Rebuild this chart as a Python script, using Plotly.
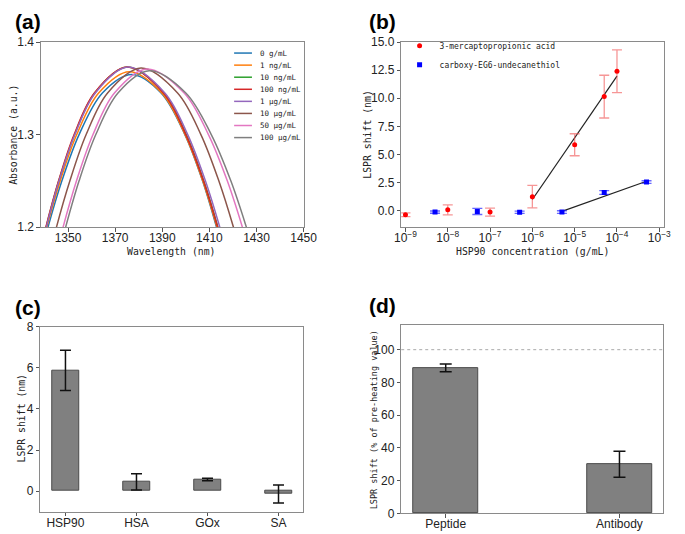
import plotly.graph_objects as go

# ---------------- data ----------------
# (a) absorbance spectra (wavelength nm, absorbance a.u.)
conc_labels = ["0 g/mL", "1 ng/mL", "10 ng/mL", "100 ng/mL", "1 µg/mL", "10 µg/mL", "50 µg/mL", "100 µg/mL"]
wl_0 = [1337.4, 1341.5, 1347.4, 1354.7, 1364.6, 1377.0, 1389.5, 1399.6, 1407.1, 1413.0, 1417.1]
ab_0 = [1.16, 1.20, 1.25, 1.30, 1.345, 1.365, 1.345, 1.30, 1.25, 1.20, 1.16]
wl_1ng = [1337.0, 1341.0, 1346.7, 1353.7, 1363.0, 1376.0, 1389.8, 1399.7, 1407.2, 1413.2, 1417.4]
ab_1ng = [1.16, 1.20, 1.25, 1.30, 1.345, 1.368, 1.345, 1.30, 1.25, 1.20, 1.16]
wl_10ng = [1336.9, 1340.7, 1346.1, 1352.8, 1361.3, 1375.2, 1390.6, 1400.2, 1407.6, 1413.6, 1417.8]
ab_10ng = [1.16, 1.20, 1.25, 1.30, 1.345, 1.373, 1.345, 1.30, 1.25, 1.20, 1.16]
wl_100ng = [1336.8, 1340.6, 1346.0, 1352.6, 1361.2, 1375.0, 1390.5, 1400.0, 1407.5, 1413.5, 1417.7]
ab_100ng = [1.16, 1.20, 1.25, 1.30, 1.345, 1.373, 1.345, 1.30, 1.25, 1.20, 1.16]
wl_1ug = [1337.0, 1340.8, 1346.2, 1352.9, 1361.6, 1375.5, 1391.1, 1400.8, 1408.3, 1414.4, 1418.7]
ab_1ug = [1.16, 1.20, 1.25, 1.30, 1.345, 1.373, 1.345, 1.30, 1.25, 1.20, 1.16]
wl_10ug = [1341.2, 1345.1, 1350.8, 1357.7, 1366.8, 1381.0, 1396.5, 1406.4, 1414.0, 1420.2, 1424.5]
ab_10ug = [1.16, 1.20, 1.25, 1.30, 1.345, 1.372, 1.345, 1.30, 1.25, 1.20, 1.16]
wl_50ug = [1343.9, 1347.9, 1353.6, 1360.6, 1369.7, 1383.5, 1399.3, 1409.6, 1417.6, 1424.0, 1428.5]
ab_50ug = [1.16, 1.20, 1.25, 1.30, 1.345, 1.371, 1.345, 1.30, 1.25, 1.20, 1.16]
wl_100ug = [1345.0, 1349.0, 1354.7, 1361.8, 1371.2, 1384.5, 1400.0, 1410.8, 1419.1, 1425.7, 1430.4]
ab_100ug = [1.16, 1.20, 1.25, 1.30, 1.345, 1.369, 1.345, 1.30, 1.25, 1.20, 1.16]

# (b) LSPR shift vs HSP90 concentration
mpa_conc = [1e-9, 1e-8, 1e-7, 1e-6, 1e-5, 5e-5, 1e-4]
mpa_shift = [-0.35, 0.08, -0.12, 1.25, 5.87, 10.15, 12.4]
mpa_err = [0.17, 0.45, 0.35, 1.0, 0.98, 1.9, 1.9]
eg6_conc = [5e-9, 5e-8, 5e-7, 5e-6, 5e-5, 5e-4]
eg6_shift = [-0.12, -0.06, -0.14, -0.12, 1.62, 2.55]
eg6_err = [0.1, 0.27, 0.1, 0.12, 0.17, 0.12]
mpa_fit_conc = [1e-6, 1e-4]
mpa_fit_shift = [1.0, 11.97]
eg6_fit_conc = [5e-6, 5e-4]
eg6_fit_shift = [-0.05, 2.62]

# (c) selectivity
proteins = ["HSP90", "HSA", "GOx", "SA"]
prot_shift = [5.87, 0.45, 0.57, -0.14]
prot_err = [0.98, 0.4, 0.06, 0.44]

# (d) heat stability
probes = ["Peptide", "Antibody"]
probe_pct = [88.9, 30.0]
probe_err = [2.4, 8.0]
pre_heating_level = 100

# ---------------- styling helpers ----------------
W, H = 685, 534
def px(x):
    return x / W
def py(y):
    return 1 - y / H

TICKFONT = dict(family="Liberation Sans Narrow, Liberation Sans, Arial", size=12, color="#222")
MONO = "DejaVu Sans Mono, Liberation Mono, monospace"
FRAME = "#8a8a8a"

def axis_style(**kw):
    d = dict(showline=True, mirror=True, linecolor=FRAME, linewidth=1, ticks="outside",
             ticklen=3.5, tickcolor="#555", tickwidth=1, showgrid=False, zeroline=False,
             tickfont=TICKFONT)
    d.update(kw)
    return d

tab10 = ["#1f77b4", "#ff7f0e", "#2ca02c", "#d62728", "#9467bd", "#8c564b", "#e377c2", "#7f7f7f"]

fig = go.Figure()

# (a) spectra
spectra = [(wl_0, ab_0), (wl_1ng, ab_1ng), (wl_10ng, ab_10ng), (wl_100ng, ab_100ng),
           (wl_1ug, ab_1ug), (wl_10ug, ab_10ug), (wl_50ug, ab_50ug), (wl_100ug, ab_100ug)]
for (wl, ab), name, col in zip(spectra, conc_labels, tab10):
    fig.add_trace(go.Scatter(x=wl, y=ab, mode="lines", name=name, showlegend=False,
                             line=dict(color=col, width=1.5, shape="spline", smoothing=1.0),
                             xaxis="x", yaxis="y"))

# (b) dose response
fig.add_trace(go.Scatter(x=mpa_fit_conc, y=mpa_fit_shift, mode="lines", showlegend=False,
                         line=dict(color="#222", width=1.2), xaxis="x2", yaxis="y2"))
fig.add_trace(go.Scatter(x=eg6_fit_conc, y=eg6_fit_shift, mode="lines", showlegend=False,
                         line=dict(color="#222", width=1.2), xaxis="x2", yaxis="y2"))
fig.add_trace(go.Scatter(x=mpa_conc, y=mpa_shift, mode="markers", name="3-mercaptopropionic acid",
                         marker=dict(color="red", size=5, symbol="circle"),
                         error_y=dict(type="data", array=mpa_err, color="rgba(240,80,80,0.6)",
                                      thickness=1.3, width=5),
                         xaxis="x2", yaxis="y2"))
fig.add_trace(go.Scatter(x=eg6_conc, y=eg6_shift, mode="markers", name="carboxy-EG6-undecanethiol",
                         marker=dict(color="blue", size=5, symbol="square"),
                         error_y=dict(type="data", array=eg6_err, color="rgba(40,40,255,0.7)",
                                      thickness=1.3, width=5),
                         xaxis="x2", yaxis="y2"))

# (c) selectivity bars
fig.add_trace(go.Bar(x=proteins, y=prot_shift, width=0.375, showlegend=False,
                     marker=dict(color="#808080", line=dict(color="#4a4a4a", width=1)),
                     error_y=dict(type="data", array=prot_err, color="#111", thickness=1.5, width=5.5),
                     xaxis="x3", yaxis="y3"))

# (d) stability bars
fig.add_trace(go.Bar(x=probes, y=probe_pct, width=0.375, showlegend=False,
                     marker=dict(color="#808080", line=dict(color="#4a4a4a", width=1)),
                     error_y=dict(type="data", array=probe_err, color="#111", thickness=1.5, width=6),
                     xaxis="x4", yaxis="y4"))

exp_ticks = [1e-9, 1e-8, 1e-7, 1e-6, 1e-5, 1e-4, 1e-3]
exp_text = ["10<sup>−%d</sup>" % n for n in range(9, 2, -1)]

XT = dict(ticklabelstandoff=-4)

fig.update_layout(
    width=W, height=H, margin=dict(l=0, r=0, t=0, b=0),
    paper_bgcolor="white", plot_bgcolor="white",
    showlegend=True,
    bargap=0,
    xaxis=axis_style(domain=[px(35), px(306)], range=[1338.5, 1450], tickvals=[1350, 1370, 1390, 1410, 1430, 1450], anchor="y", **XT),
    yaxis=axis_style(domain=[py(226), py(36)], range=[1.2, 1.4], tickvals=[1.2, 1.3, 1.4], tickformat=".1f", anchor="x"),
    xaxis2=axis_style(domain=[px(406.7), px(677.7)], type="log", range=[-9.1, -2.89],
                      tickvals=exp_ticks, ticktext=exp_text, anchor="y2", **XT),
    yaxis2=axis_style(domain=[py(226), py(36)], range=[-1.45, 15.0],
                      tickvals=[0, 2.5, 5, 7.5, 10, 12.5, 15], tickformat=".1f", anchor="x2"),
    xaxis3=axis_style(domain=[px(34.3), px(305)], range=[-0.355, 3.34], anchor="y3", **XT),
    yaxis3=axis_style(domain=[py(518.3), py(328.3)], range=[-1.0, 8.0], tickvals=[0, 2, 4, 6, 8], anchor="x3"),
    xaxis4=axis_style(domain=[px(406.7), px(677)], range=[-0.256, 1.252], anchor="y4", **XT),
    yaxis4=axis_style(domain=[py(520), py(326.7)], range=[0, 115], tickvals=[0, 20, 40, 60, 80, 100], anchor="x4"),
    legend=dict(x=px(405), y=py(25), xanchor="left", yanchor="top", bgcolor="rgba(0,0,0,0)",
                font=dict(family=MONO, size=8, color="#222"), itemwidth=30),
)

# dotted reference line in (d)
fig.add_shape(type="line", xref="x4 domain", yref="y4", x0=0, x1=1,
              y0=pre_heating_level, y1=pre_heating_level,
              line=dict(color="#aaaaaa", width=1, dash="dot"))

# manual legend for (a) (compact spacing)
for i, (name, col) in enumerate(zip(conc_labels, tab10)):
    yy = 47.3 + 12.4 * i
    fig.add_shape(type="line", xref="paper", yref="paper", x0=px(234.3), x1=px(252.7),
                  y0=py(yy), y1=py(yy), line=dict(color=col, width=1.5))
    fig.add_annotation(x=px(259), y=py(yy), xref="paper", yref="paper", text=name,
                       showarrow=False, xanchor="left", yanchor="middle",
                       font=dict(family=MONO, size=7.5, color="#222"))

title_font = dict(family=MONO, size=9.8, color="#222")
def ann(x, y, text, angle=0, font=title_font, xanchor="center", yanchor="middle"):
    fig.add_annotation(x=px(x), y=py(y), xref="paper", yref="paper", text=text, showarrow=False,
                       textangle=angle, xanchor=xanchor, yanchor=yanchor, font=font)

ann(169, 251, "Wavelength (nm)")
ann(6.5, 131, "Absorbance (a.u.)", angle=-90)
ann(542, 251, "HSP90 concentration (g/mL)")
ann(371.5, 131, "LSPR shift (nm)", angle=-90)
ann(15, 423, "LSPR shift (nm)", angle=-90)
ann(379, 424, "LSPR shift (% of pre-heating value)", angle=-90, font=dict(family=MONO, size=8.5, color="#222"))

panel_font = dict(family="Liberation Sans, Arial", size=21, color="black")
ann(6, 1, "<b>(a)</b>", font=panel_font, xanchor="left", yanchor="top")
ann(371, 1, "<b>(b)</b>", font=panel_font, xanchor="left", yanchor="top")
ann(6, 295, "<b>(c)</b>", font=panel_font, xanchor="left", yanchor="top")
ann(371, 293, "<b>(d)</b>", font=panel_font, xanchor="left", yanchor="top")

fig.write_html("out.html")
